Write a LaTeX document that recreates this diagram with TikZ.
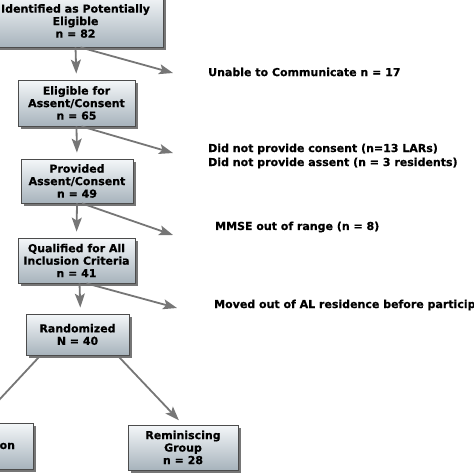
\documentclass[tikz,border=0pt]{standalone}
\usepackage{fontspec}
\setmainfont{DejaVu Sans}[BoldFeatures={FakeBold=0.5}]
\usetikzlibrary{arrows.meta}
\usetikzlibrary{shadows}
\definecolor{color_flow_top}{HTML}{F4F7F9}
\definecolor{color_flow_bottom}{HTML}{A7B3BC}
\definecolor{color_flow_border}{HTML}{4C4C4C}
\definecolor{color_flow_shadow}{HTML}{5E5E5E}
\definecolor{color_flow_arrow}{HTML}{767676}
\def\flowarrowwidth{1.8pt}
\def\flowtipgap{6pt}
\def\flowboxfont{\bfseries\fontsize{11}{12.5}\selectfont}
\def\flownotefont{\bfseries\fontsize{11}{14}\selectfont}

\begin{document}
\begin{tikzpicture}[x=1pt,y=-1pt,
        flowbox/.style={draw=color_flow_border, line width=0.8pt,
            top color=color_flow_top, bottom color=color_flow_bottom,
            align=center, inner sep=0pt, font=\flowboxfont,
            drop shadow={shadow xshift=3pt, shadow yshift=-3pt, fill=color_flow_shadow, opacity=0.85}},
        flownote/.style={anchor=west, inner sep=0pt, align=left, font=\flownotefont},
        flowarrow/.style={draw=color_flow_arrow, line width=\flowarrowwidth,
            -{Stealth[length=14pt,width=10pt,inset=3pt]}},
        flowdown/.style={flowarrow, shorten >=\flowtipgap}]
        \useasboundingbox (0,0) rectangle (474,474);
        % main column
        \node[flowbox, minimum width=175pt, minimum height=52pt] (ident) at (75.5,21) {Identified as Potentially\\Eligible\\n = 82};
        \node[flowbox, minimum width=117pt, minimum height=46pt] (elig) at (76.5,103) {Eligible for\\Assent/Consent\\n = 65};
        \node[flowbox, minimum width=112pt, minimum height=44pt] (prov) at (77,181) {Provided\\Assent/Consent\\n = 49};
        \node[flowbox, minimum width=117pt, minimum height=45pt] (qual) at (76.5,260.5) {Qualified for All\\Inclusion Criteria\\n = 41};
        \node[flowbox, minimum width=103pt, minimum height=41pt] (rand) at (77.5,334.5) {Randomized\\N = 40};
        % the two groups
        \node[flowbox, minimum width=110pt, minimum height=46pt, text width=74pt, align=right] (comp) at (-22,446) {on};
        \node[flowbox, minimum width=110pt, minimum height=45pt] (remin) at (183,447.5) {Reminiscing\\Group\\n = 28};
        % excluded
        \node[flownote] (unable) at (208,72) {Unable to Communicate n = 17};
        \node[flownote] (consent) at (208,156) {Did not provide consent (n=13 LARs)\\Did not provide assent (n = 3 residents)};
        \node[flownote] (mmse) at (215,227) {MMSE out of range (n = 8)};
        \node[flownote] (moved) at (214,305) {Moved out of AL residence before particip};
        \coordinate (unable tip) at (173,73);
        \coordinate (consent tip) at (173,153);
        \coordinate (mmse tip) at (173,235);
        \coordinate (moved tip) at (177,308);
        % arrows
        \draw[flowdown] (ident.south) -- (elig.north);
        \draw[flowdown] (elig.south) -- (prov.north);
        \draw[flowdown] (prov.south) -- (qual.north);
        \draw[flowdown] ([xshift=3pt]qual.south) -- ([xshift=3pt]rand.north);
        \draw[flowarrow] ([xshift=5pt]ident.south) -- (unable tip);
        \draw[flowarrow] ([xshift=5pt]elig.south) -- (consent tip);
        \draw[flowarrow] ([xshift=5pt]prov.south) -- (mmse tip);
        \draw[flowarrow] ([xshift=10pt]qual.south) -- (moved tip);
        \draw[flowdown, shorten <=3pt] ([xshift=-37pt]rand.south) -- (comp.north);
        \draw[flowdown, shorten <=3pt] ([xshift=40pt]rand.south) -- (remin.north);
\end{tikzpicture}
\end{document}
